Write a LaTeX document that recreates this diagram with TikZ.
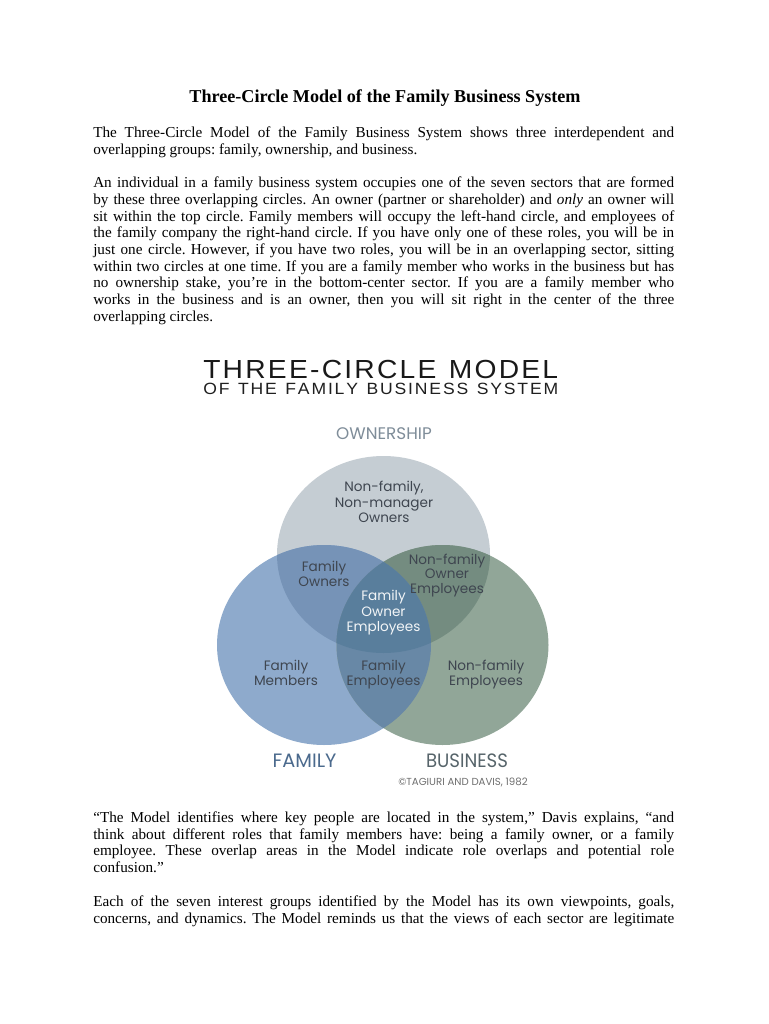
\documentclass[tikz,border=0pt]{standalone}
\usepackage{fontspec}
\setmainfont{Liberation Serif}
\newfontfamily\dgm{Poppins}
\newfontfamily\hdg{Liberation Sans}
\definecolor{cTop}{HTML}{C5CDD3}
\definecolor{cLeft}{HTML}{8EAACC}
\definecolor{cRight}{HTML}{91A698}
\definecolor{cTL}{HTML}{7693B7}
\definecolor{cTR}{HTML}{748C80}
\definecolor{cLR}{HTML}{6888A6}
\definecolor{cAll}{HTML}{597E9C}
\definecolor{labgray}{HTML}{3F4650}
\definecolor{owncol}{HTML}{7F8D99}
\definecolor{famcol}{HTML}{4B6A8D}
\definecolor{buscol}{HTML}{56646A}
\definecolor{copycol}{HTML}{6F6F6F}
\newcommand\jl[1]{\makebox[435.75pt][s]{#1}}
\frenchspacing
\begin{document}
\begin{tikzpicture}[x=0.75pt,y=-0.75pt,
  body/.style={anchor=base west, inner sep=0pt, font=\frenchspacing\fontsize{11.4}{12.5}\selectfont},
  lab/.style={anchor=base, inner sep=0pt, font=\dgm\fontsize{10.2}{12}\selectfont, text=labgray},
  labw/.style={lab, text=white!92!cAll},
  big/.style={anchor=base, inner sep=0pt, font=\dgm\fontsize{14.5}{16}\selectfont}]
\useasboundingbox (0,0) rectangle (768,1024);
\fill[white] (0,0) rectangle (768,1024);

% page title
\node[anchor=base, inner sep=0pt, font=\bfseries\fontsize{13.6}{15}\selectfont] (title) at (385,102.3) {Three-Circle Model of the Family Business System};

% paragraph 1
\node[body] (p1a) at (93,137.7) {\jl{The Three-Circle Model of the Family Business System shows three interdependent and}};
\node[body] (p1b) at (93,154.4) {overlapping groups: family, ownership, and business.};

% paragraph 2
\node[body] (p2a) at (93,187.7) {\jl{An individual in a family business system occupies one of the seven sectors that are formed}};
\node[body] (p2b) at (93,204.4) {\jl{by these three overlapping circles. An owner (partner or shareholder) and \emph{only} an owner will}};
\node[body] (p2c) at (93,221.1) {\jl{sit within the top circle. Family members will occupy the left-hand circle, and employees of}};
\node[body] (p2d) at (93,237.8) {\jl{the family company the right-hand circle. If you have only one of these roles, you will be in}};
\node[body] (p2e) at (93,254.5) {\jl{just one circle. However, if you have two roles, you will be in an overlapping sector, sitting}};
\node[body] (p2f) at (93,271.2) {\jl{within two circles at one time. If you are a family member who works in the business but has}};
\node[body] (p2g) at (93,287.9) {\jl{no ownership stake, you’re in the bottom-center sector. If you are a family member who}};
\node[body] (p2h) at (93,304.6) {\jl{works in the business and is an owner, then you will sit right in the center of the three}};
\node[body] (p2i) at (93,321.3) {overlapping circles.};

% diagram heading
\node[anchor=base west, inner sep=0pt, font=\hdg\fontsize{19.6}{20}\selectfont, text=black!90] (h1) at (203,378)
  {\scalebox{1.08}[1]{\makebox[246.5pt][s]{T\hfil H\hfil R\hfil E\hfil E\hfil -\hfil C\hfil I\hfil R\hfil C\hfil L\hfil E\hfil\ \hfil M\hfil O\hfil D\hfil E\hfil L}}};
\node[anchor=base west, inner sep=0pt, font=\hdg\fontsize{12.2}{14}\selectfont, text=black!88] (h2) at (203,394.2)
  {\scalebox{1.08}[1]{\makebox[246.5pt][s]{O\hfil F\hfil\ \hfil T\hfil H\hfil E\hfil\ \hfil F\hfil A\hfil M\hfil I\hfil L\hfil Y\hfil\ \hfil B\hfil U\hfil S\hfil I\hfil N\hfil E\hfil S\hfil S\hfil\ \hfil S\hfil Y\hfil S\hfil T\hfil E\hfil M}}};

% circles
\def\eT{(383.5,554.5) ellipse [x radius=106.5, y radius=98.5]}
\def\eL{(324,645) ellipse [x radius=107, y radius=100]}
\def\eR{(442.5,645) ellipse [x radius=106, y radius=100]}
\fill[cTop] \eT;
\fill[cLeft] \eL;
\fill[cRight] \eR;
\begin{scope}\clip \eT; \fill[cTL] \eL; \fill[cTR] \eR; \end{scope}
\begin{scope}\clip \eL; \fill[cLR] \eR; \end{scope}
\begin{scope}\clip \eT; \clip \eL; \fill[cAll] \eR; \end{scope}

% circle titles
\node[big, text=owncol, font=\dgm\fontsize{12.6}{14}\selectfont] (own) at (384,439) {OWNERSHIP};
\node[big, text=famcol] (fam) at (304.5,767) {FAMILY};
\node[big, text=buscol, xscale=0.94, transform shape] (bus) at (467,767) {BUSINESS};
\node[anchor=base, inner sep=0pt, font=\dgm\fontsize{7.65}{8}\selectfont, text=copycol] (copy) at (463,785) {©TAGIURI AND DAVIS, 1982};

% sector labels
\node[lab] (nfa) at (384,491.7) {Non-family,};
\node[lab] (nfb) at (384,507) {Non-manager};
\node[lab] (nfc) at (384,522.7) {Owners};
\node[lab] (foa) at (324,571.7) {Family};
\node[lab] (fob) at (324,586.3) {Owners};
\node[lab] (nea) at (447,564) {Non-family};
\node[lab] (neb) at (447,578.7) {Owner};
\node[lab] (nec) at (447,593.3) {Employees};
\node[labw] (fea) at (383.5,600.7) {Family};
\node[labw] (feb) at (383.5,616) {Owner};
\node[labw] (fec) at (383.5,631.7) {Employees};
\node[lab] (fma) at (286,670.7) {Family};
\node[lab] (fmb) at (286,685) {Members};
\node[lab] (fpa) at (383.5,670.7) {Family};
\node[lab] (fpb) at (383.5,685) {Employees};
\node[lab] (npa) at (486,670.7) {Non-family};
\node[lab] (npb) at (486,685) {Employees};

% paragraph 3
\node[body] (p3a) at (93,822.3) {\jl{“The Model identifies where key people are located in the system,” Davis explains, “and}};
\node[body] (p3b) at (93,839) {\jl{think about different roles that family members have: being a family owner, or a family}};
\node[body] (p3c) at (93,855.7) {\jl{employee. These overlap areas in the Model indicate role overlaps and potential role}};
\node[body] (p3d) at (93,872.4) {confusion.”};

% paragraph 4
\node[body] (p4a) at (93,906.3) {\jl{Each of the seven interest groups identified by the Model has its own viewpoints, goals,}};
\node[body] (p4b) at (93,923) {\jl{concerns, and dynamics. The Model reminds us that the views of each sector are legitimate}};
\end{tikzpicture}
\end{document}
